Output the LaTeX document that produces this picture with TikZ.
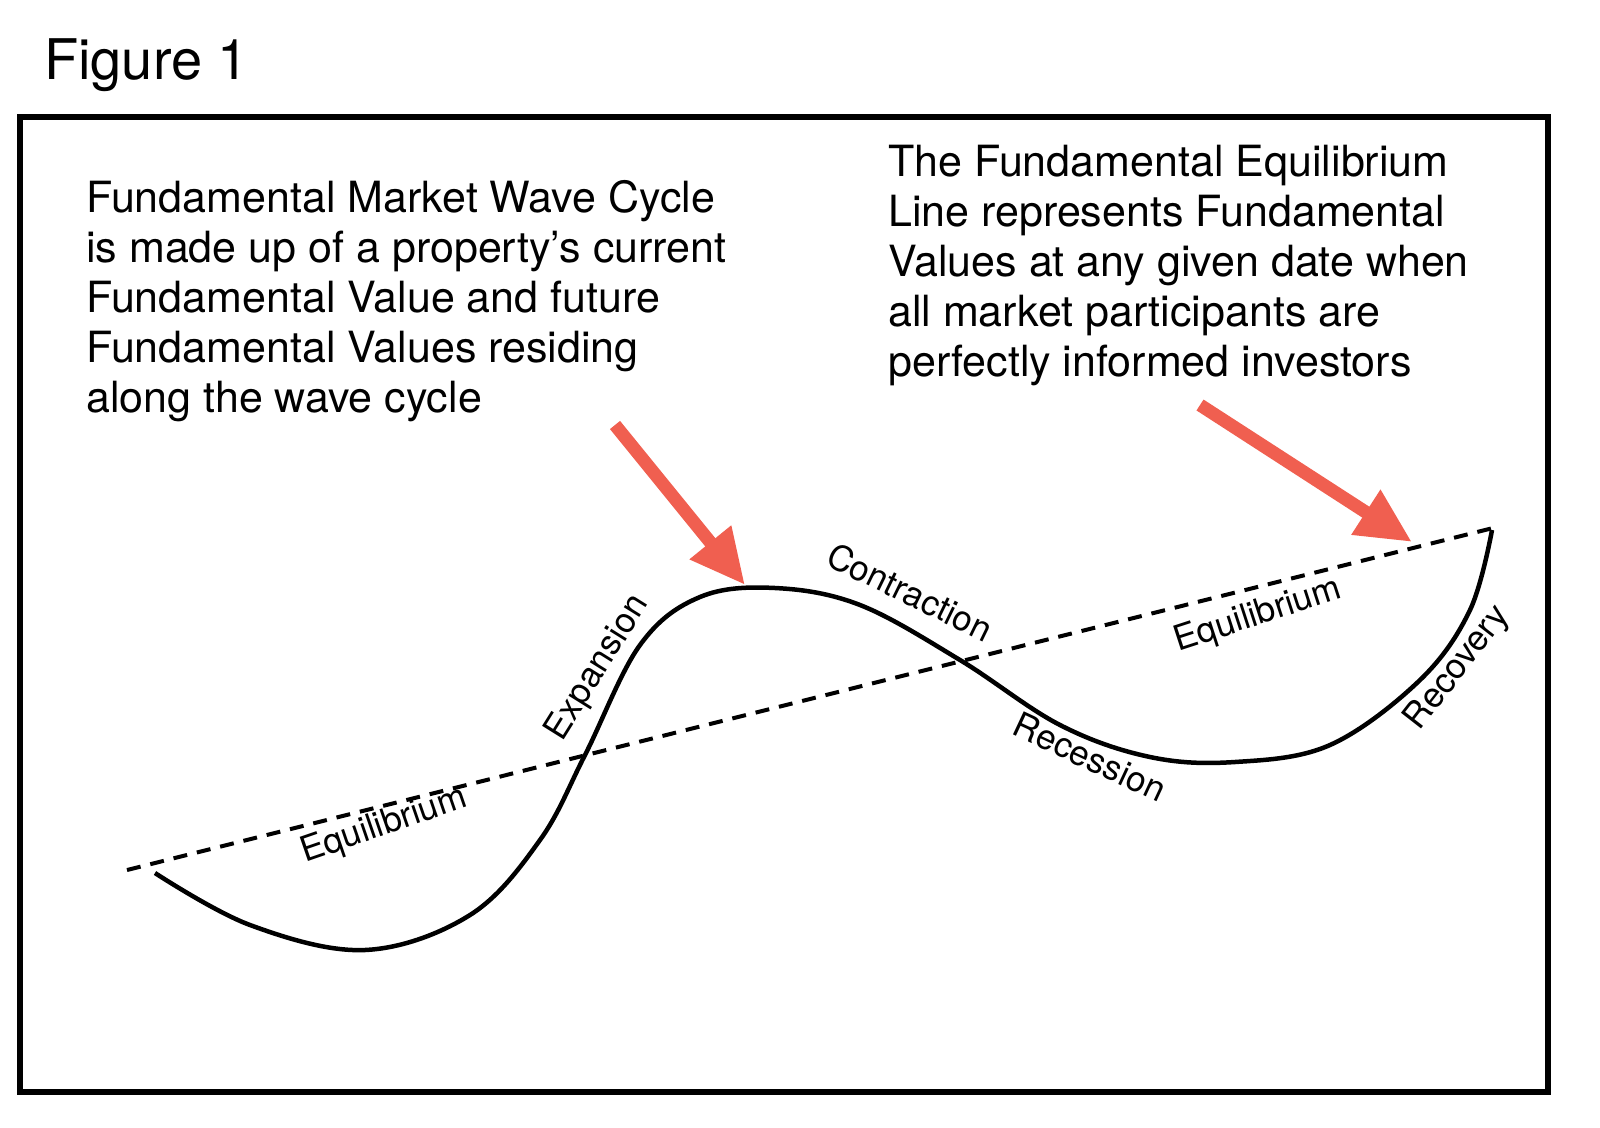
\documentclass[tikz,border=0pt]{standalone}
\usepackage{fontspec}
\setmainfont{TeX Gyre Heros}
\usetikzlibrary{arrows.meta}
\definecolor{arr}{RGB}{240,95,80}
\begin{document}
\begin{tikzpicture}[x=1pt,y=-1pt,
  lbl/.style={font=\fontsize{35}{38}\selectfont,inner sep=0pt},
  blk/.style={font=\fontsize{43}{50}\selectfont,align=left,anchor=north west,inner sep=0pt},
  redarrow/.style={draw=arr,line width=13pt,-{Triangle[length=55pt,width=50pt]}}]
\useasboundingbox (0,0) rectangle (1600,1127);
\node[anchor=west,inner sep=0pt,font=\fontsize{56}{60}\selectfont] (title) at (44,65) {Figure 1};
\draw[line width=6pt] (20,117) rectangle (1548,1092);
\node[blk] (t1) at (86,180) {Fundamental Market Wave Cycle\\is made up of a property's current\\Fundamental Value and future\\Fundamental Values residing\\along the wave cycle};
\node[blk] (t2) at (888,145) {The Fundamental Equilibrium\\Line represents Fundamental\\Values at any given date when\\all market participants are\\perfectly informed investors};
\coordinate (e1) at (127,870); \coordinate (e2) at (1493,528);
\draw[line width=4pt,dashed,dash pattern=on 14pt off 10pt] (e1) -- (e2);
\draw[line width=4.5pt] plot[smooth,tension=0.6] coordinates{(155,873)(250,925)(365,950)(470,915)(540,840)(585,755)(640,645)(700,597)(775,588)(860,605)(960,660)(1060,725)(1150,757)(1235,762)(1330,745)(1420,680)(1470,610)(1492,530)};
\coordinate (a1s) at (615,425); \coordinate (a1e) at (745,585);
\coordinate (a2s) at (1200,405); \coordinate (a2e) at (1412,542);
\draw[redarrow] (a1s) -- (a1e);
\draw[redarrow] (a2s) -- (a2e);
\node[lbl,rotate=58] (l1) at (598,668) {Expansion};
\node[lbl,rotate=-26] (l2) at (910,592) {Contraction};
\node[lbl,rotate=19] (l3) at (384,826) {Equilibrium};
\node[lbl,rotate=18] (l4) at (1258,616) {Equilibrium};
\node[lbl,rotate=-25] (l5) at (1090,757) {Recession};
\node[lbl,rotate=52] (l6) at (1458,668) {Recovery};
\end{tikzpicture}
\end{document}
